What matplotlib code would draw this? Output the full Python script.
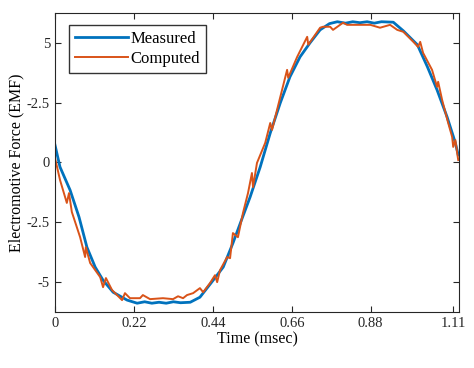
import matplotlib
matplotlib.use("Agg")
import matplotlib.pyplot as plt

plt.rcParams['font.family'] = ['Liberation Serif', 'DejaVu Serif']

# measured EMF (time in msec)
t_meas = [0.000, 0.014, 0.042, 0.067, 0.089, 0.112, 0.134, 0.162, 0.201, 0.229,
          0.25, 0.27, 0.29, 0.31, 0.33, 0.35, 0.377, 0.404, 0.441, 0.469,
          0.496, 0.520, 0.544, 0.572, 0.600, 0.628, 0.655, 0.683, 0.711, 0.739,
          0.765, 0.787, 0.81, 0.83, 0.85, 0.87, 0.89, 0.91, 0.943, 0.971,
          1.010, 1.038, 1.065, 1.093, 1.116, 1.124]
emf_meas = [0.73, -0.19, -1.15, -2.28, -3.54, -4.37, -4.92, -5.42, -5.75, -5.88,
            -5.82, -5.88, -5.84, -5.88, -5.82, -5.86, -5.84, -5.63, -4.92, -4.37,
            -3.37, -2.40, -1.44, -0.19, 1.23, 2.49, 3.58, 4.41, 5.00, 5.54,
            5.80, 5.88, 5.82, 5.88, 5.84, 5.88, 5.82, 5.88, 5.86, 5.50,
            4.92, 4.00, 3.03, 1.90, 0.82, 0.31]

# computed EMF
t_comp = [0.000, 0.014, 0.033, 0.039, 0.047, 0.070, 0.084, 0.086, 0.098, 0.126,
          0.134, 0.142, 0.159, 0.187, 0.195, 0.209, 0.237, 0.245, 0.265, 0.301,
          0.329, 0.343, 0.357, 0.368, 0.385, 0.404, 0.413, 0.432, 0.446, 0.452,
          0.460, 0.480, 0.488, 0.496, 0.510, 0.524, 0.538, 0.549, 0.552, 0.563,
          0.586, 0.600, 0.605, 0.619, 0.647, 0.650, 0.675, 0.703, 0.706, 0.739,
          0.747, 0.767, 0.775, 0.803, 0.814, 0.859, 0.879, 0.906,
          0.934, 0.954, 0.971, 0.985, 0.999, 1.012, 1.018, 1.026, 1.051, 1.065,
          1.068, 1.079, 1.096, 1.107, 1.110, 1.116, 1.121, 1.124]
emf_comp = [0.19, -0.73, -1.69, -1.28, -2.07, -3.12, -3.95, -3.54, -4.20, -4.79,
            -5.21, -4.83, -5.33, -5.75, -5.46, -5.67, -5.67, -5.54, -5.71, -5.67,
            -5.71, -5.59, -5.67, -5.54, -5.46, -5.25, -5.42, -5.04, -4.71, -5.00,
            -4.50, -3.95, -4.00, -2.95, -3.12, -2.11, -1.28, -0.44, -1.03, -0.02,
            0.82, 1.65, 1.36, 2.20, 3.87, 3.54, 4.41, 5.25, 4.92, 5.63,
            5.67, 5.67, 5.54, 5.84, 5.75, 5.75, 5.75, 5.63,
            5.75, 5.54, 5.46, 5.25, 5.04, 4.83, 5.04, 4.58, 3.87, 3.16,
            3.37, 2.62, 1.65, 1.07, 0.65, 0.94, 0.40, 0.10]

x_ticks = [0, 0.22, 0.44, 0.66, 0.88, 1.11]
y_ticks = [5, 2.5, 0, -2.5, -5]
y_tick_labels = ['5', '-2.5', '0', '-2.5', '-5']

fig = plt.figure(figsize=(4.74, 3.68), dpi=100)
ax = fig.add_axes([0.116, 0.152, 0.853, 0.813])

ax.plot(t_meas, emf_meas, color='#0072BD', lw=2.0, label='Measured')
ax.plot(t_comp, emf_comp, color='#D95319', lw=1.4, label='Computed')

ax.set_xlim(0, 1.127)
ax.set_ylim(-6.25, 6.25)
ax.set_xticks(x_ticks)
ax.set_xticklabels(['0', '0.22', '0.44', '0.66', '0.88', '1.11'])
ax.set_yticks(y_ticks)
ax.set_yticklabels(y_tick_labels)
ax.tick_params(direction='in', top=True, right=True, length=4, width=0.8,
               labelsize=10.5, colors='#262626')
for s in ax.spines.values():
    s.set_color('#262626')
    s.set_linewidth(0.8)

ax.set_xlabel('Time (msec)', fontsize=11.5, labelpad=1)
ax.set_ylabel('Electromotive Force (EMF)', fontsize=11.5, labelpad=2)

leg = ax.legend(loc='upper left', fontsize=12, handlelength=3.2, handletextpad=0.15,
                fancybox=False, edgecolor='black', borderpad=0.35,
                labelspacing=0.25, borderaxespad=0, bbox_to_anchor=(0.035, 0.96))
leg.get_frame().set_linewidth(1.0)

fig.savefig('out.png', dpi=100)
